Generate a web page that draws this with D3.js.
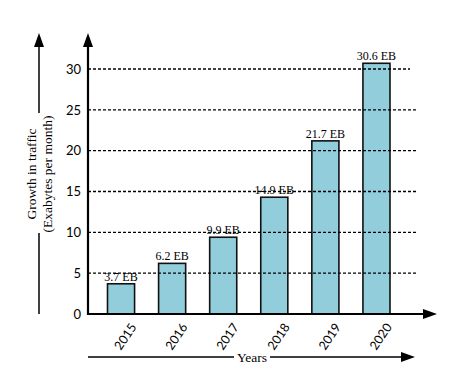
<!DOCTYPE html>
<html><head><meta charset="utf-8">
<script src="https://cdn.jsdelivr.net/npm/d3@7"></script>
<style>body{margin:0;background:#fff}svg{display:block}</style>
</head><body>
<svg id="c" width="474" height="390"></svg>
<script>
const years = ["2015","2016","2017","2018","2019","2020"];
const barValues = [3.7, 6.2, 9.4, 14.3, 21.2, 30.7];
const barLabels = ["3.7 EB","6.2 EB","9.9 EB","14.9 EB","21.7 EB","30.6 EB"];
const yTicks = [0,5,10,15,20,25,30];
const yTitle = ["Growth in traffic","(Exabytes per month)"];
const xTitle = "Years";

const svg = d3.select("#c");
const y = d3.scaleLinear().domain([0,30]).range([314,69]);
const x = d3.scaleBand().domain(years).range([95.5,402]).paddingInner(0.47).paddingOuter(0.235);

// bars
svg.selectAll("rect.bar").data(years).join("rect")
  .attr("x", d=>x(d)).attr("width", x.bandwidth())
  .attr("y", (d,i)=>y(barValues[i])).attr("height",(d,i)=>y(0)-y(barValues[i]))
  .attr("fill","#92CDDC").attr("stroke","#111").attr("stroke-width",1.6);

// gridlines
svg.selectAll("line.grid").data(yTicks.filter(v=>v>0)).join("line")
  .attr("x1",88).attr("x2",d=>d===30?410:417)
  .attr("y1",d=>y(d)).attr("y2",d=>y(d))
  .attr("stroke","#000").attr("stroke-width",1.4).attr("stroke-dasharray","3,2");

// y axis via d3 axis (labels only)
const yAxis = svg.append("g").attr("transform","translate(88,0)")
  .call(d3.axisLeft(y).tickValues(yTicks).tickSize(0).tickPadding(7));
yAxis.select(".domain").remove();
yAxis.selectAll("text").attr("font-family","Lato, 'Open Sans', sans-serif").attr("font-size",13).attr("fill","#000");

// x axis tick labels
const xAxis = svg.append("g").attr("transform","translate(0,314)")
  .call(d3.axisBottom(x).tickSize(0).tickPadding(0));
xAxis.select(".domain").remove();
xAxis.selectAll("text")
  .attr("font-family","Lato, 'Open Sans', sans-serif").attr("font-size",12.5).attr("fill","#000")
  .attr("text-anchor","end").attr("dy",0).attr("y",0).attr("x",0)
  .attr("transform","translate(16,13) rotate(-56)");

// arrowheads
const arrow = (px,py,dir)=>{
  const s=7, l=14;
  let pts;
  if(dir==="up") pts=[[px,py],[px-s/1.4,py+l],[px+s/1.4,py+l]];
  else pts=[[px,py],[px-l,py-s/1.4],[px-l,py+s/1.4]];
  svg.append("path").attr("d",d3.line()(pts)+"Z").attr("fill","#000");
};

// axes lines
svg.append("line").attr("x1",88).attr("x2",88).attr("y1",315).attr("y2",44).attr("stroke","#000").attr("stroke-width",2.2);
arrow(88,33,"up");
svg.append("line").attr("x1",87).attr("x2",426).attr("y1",314).attr("y2",314).attr("stroke","#000").attr("stroke-width",2.2);
arrow(437,314,"right");

// bar labels
svg.selectAll("text.lbl").data(years).join("text")
  .attr("x",d=>x(d)+x.bandwidth()/2).attr("y",(d,i)=>y(barValues[i])-3)
  .attr("text-anchor","middle").attr("font-family","'Liberation Serif', serif").attr("font-size",12)
  .attr("fill","#000").text((d,i)=>barLabels[i]);

// y title with arrow
const ty = svg.append("text").attr("transform","translate(0,174) rotate(-90)")
  .attr("text-anchor","middle").attr("font-family","'Liberation Serif', serif").attr("font-size",13.5).attr("fill","#000");
ty.append("tspan").attr("x",0).attr("y",36).text(yTitle[0]);
ty.append("tspan").attr("x",0).attr("y",52).text(yTitle[1]);
svg.append("line").attr("x1",39).attr("x2",39).attr("y1",314).attr("y2",233).attr("stroke","#000").attr("stroke-width",1.5);
svg.append("line").attr("x1",39).attr("x2",39).attr("y1",113).attr("y2",44).attr("stroke","#000").attr("stroke-width",1.5);
arrow(39,33,"up");

// x title with arrow
svg.append("line").attr("x1",88).attr("x2",234).attr("y1",357).attr("y2",357).attr("stroke","#000").attr("stroke-width",1.5);
svg.append("line").attr("x1",270).attr("x2",405).attr("y1",357).attr("y2",357).attr("stroke","#000").attr("stroke-width",1.5);
arrow(415,357,"right");
svg.append("text").attr("x",252).attr("y",362).attr("text-anchor","middle")
  .attr("font-family","'Liberation Serif', serif").attr("font-size",13.5).attr("fill","#000").text(xTitle);
</script>
</body></html>
